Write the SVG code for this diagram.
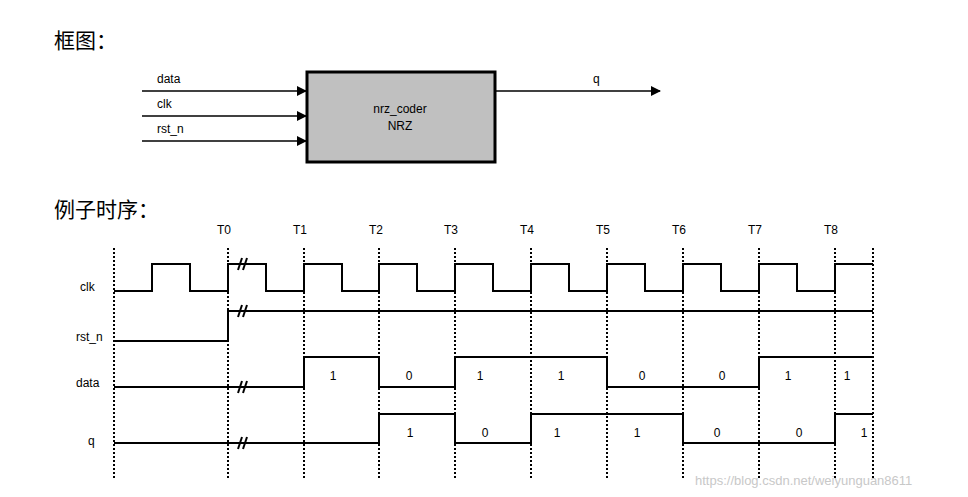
<svg xmlns="http://www.w3.org/2000/svg" width="968" height="497" viewBox="0 0 968 497">
<style>
text{font-family:"Liberation Sans","Noto Sans CJK SC",sans-serif;font-size:12px;fill:#000}
.h{font-size:21px;font-family:"Noto Sans CJK SC",sans-serif}
.w{fill:none;stroke:#000;stroke-width:2}
.g{stroke:#000;stroke-width:2;stroke-dasharray:2 2}
.m{text-anchor:middle}
</style>
<defs><marker id="a" markerWidth="10" markerHeight="10" refX="9" refY="5" orient="auto" markerUnits="userSpaceOnUse" viewBox="0 0 10 10"><path d="M0,0L10,5L0,10Z"/></marker></defs>
<rect width="968" height="497" fill="#fff"/>
<text class="h" x="54" y="48">框图：</text>
<text class="h" x="54" y="217">例子时序：</text>
<g id="block"><rect x="307" y="72" width="188" height="90" fill="#c0c0c0" stroke="#000" stroke-width="3"/>
<text class="m" x="400" y="113">nrz_coder</text><text class="m" x="400" y="130">NRZ</text></g>
<g id="connectors" stroke="#000" stroke-width="1.5">
<line x1="142" y1="91" x2="306" y2="91" marker-end="url(#a)"/>
<line x1="142" y1="116" x2="306" y2="116" marker-end="url(#a)"/>
<line x1="142" y1="141" x2="306" y2="141" marker-end="url(#a)"/>
<line x1="496" y1="91" x2="660" y2="91" marker-end="url(#a)"/>
</g>
<g id="labels"><text x="157" y="83">data</text><text x="157" y="108">clk</text><text x="157" y="133">rst_n</text><text x="593" y="83">q</text></g>
<g id="grid">
<line class="g" x1="114" y1="248" x2="114" y2="478"/><line class="g" x1="228" y1="248" x2="228" y2="478"/>
<line class="g" x1="304" y1="248" x2="304" y2="478"/><line class="g" x1="379" y1="248" x2="379" y2="478"/>
<line class="g" x1="455" y1="248" x2="455" y2="478"/><line class="g" x1="531" y1="248" x2="531" y2="478"/>
<line class="g" x1="607" y1="248" x2="607" y2="478"/><line class="g" x1="683" y1="248" x2="683" y2="478"/>
<line class="g" x1="759" y1="248" x2="759" y2="478"/><line class="g" x1="835" y1="248" x2="835" y2="478"/>
<line class="g" x1="873" y1="248" x2="873" y2="478"/>
</g>
<g id="tlabels" class="m">
<text class="m" x="224" y="234">T0</text><text class="m" x="300" y="234">T1</text><text class="m" x="376" y="234">T2</text><text class="m" x="451" y="234">T3</text><text class="m" x="527" y="234">T4</text><text class="m" x="603" y="234">T5</text><text class="m" x="679" y="234">T6</text><text class="m" x="755" y="234">T7</text><text class="m" x="831" y="234">T8</text>
</g>
<g id="signals">
<text x="80" y="291">clk</text><text x="76" y="341">rst_n</text><text x="76" y="387">data</text><text x="88" y="445">q</text>
<path class="w" d="M114,291H152V264H190V291H228V264H266V291H304V264H342V291H379V264H417V291H455V264H493V291H531V264H569V291H607V264H645V291H683V264H721V291H759V264H797V291H835V264H873"/>
<path class="w" d="M114,341H228V311H873"/>
<path class="w" d="M114,387H304V357H379V387H455V357H607V387H759V357H873"/>
<path class="w" d="M114,443H379V414H455V443H531V414H683V443H835V414H873"/>
<g stroke="#000" stroke-width="2"><line x1="238" y1="270" x2="242" y2="258"/><line x1="243" y1="270" x2="247" y2="258"/>
<line x1="238" y1="317" x2="242" y2="305"/><line x1="243" y1="317" x2="247" y2="305"/>
<line x1="238" y1="393" x2="242" y2="381"/><line x1="243" y1="393" x2="247" y2="381"/>
<line x1="238" y1="449" x2="242" y2="437"/><line x1="243" y1="449" x2="247" y2="437"/></g>
<text class="m" x="333" y="380">1</text><text class="m" x="409" y="380">0</text><text class="m" x="480" y="380">1</text><text class="m" x="561" y="380">1</text><text class="m" x="642" y="380">0</text><text class="m" x="722" y="380">0</text><text class="m" x="788" y="380">1</text><text class="m" x="847" y="380">1</text>
<text class="m" x="410" y="437">1</text><text class="m" x="485" y="437">0</text><text class="m" x="557" y="437">1</text><text class="m" x="637" y="437">1</text><text class="m" x="717" y="437">0</text><text class="m" x="799" y="437">0</text><text class="m" x="864" y="437">1</text>
</g>
<text x="695" y="485" style="fill:#c8c8c8;font-size:13px">https://blog.csdn.net/weiyunguan8611</text>
</svg>
